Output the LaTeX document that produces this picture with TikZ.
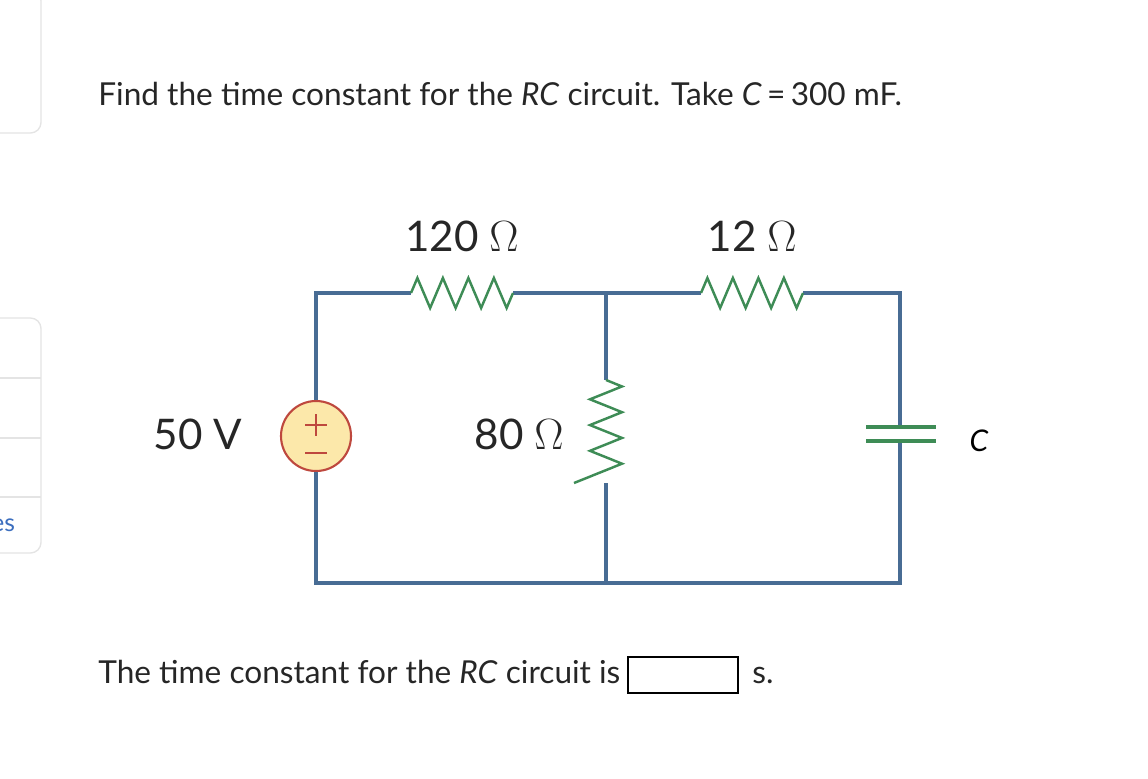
\documentclass[tikz,border=0pt]{standalone}
\usepackage{fontspec}
\setmainfont{Lato}
\usetikzlibrary{positioning}
\definecolor{wire}{RGB}{72,108,148}
\definecolor{resgreen}{RGB}{62,140,86}
\definecolor{srcfill}{RGB}{252,232,170}
\definecolor{srcred}{RGB}{190,72,62}
\definecolor{panel}{RGB}{228,228,228}
\tikzset{
  wire/.style={draw=wire, line width=2pt},
  res/.style={draw=resgreen, line width=1.4pt, line join=miter},
  lbl/.style={font=\fontsize{24}{24}\selectfont, text=black!85, inner sep=0pt},
  txt/.style={font=\fontsize{18}{20}\selectfont, text=black!85, inner sep=0pt, anchor=base west},
}
% horizontal zigzag: start, length
\newcommand\zigH[2]{\draw[res] (#1) -- ++({#2/16},-15)
  \foreach \k in {1,...,7}{ -- ++({#2/8},{30*pow(-1,\k+1)})} -- ++({#2/16},-15);}
% vertical zigzag: start, length
\newcommand\zigV[2]{\draw[res] (#1) -- ++(16,{#2/16})
  \foreach \k in {1,...,7}{ -- ++({-32*pow(-1,\k+1)},{#2/8})} -- ++(-16,{#2/16});}
\begin{document}
\begin{tikzpicture}[x=0.02cm, y=-0.02cm]%{{{
\useasboundingbox (0,0) rectangle (1148,778);
%
% Side panels
\draw [panel, line width=0.8pt, rounded corners=6pt] (-20,-10) -- (41,-10) -- (41,133) -- (-20,133);
\draw [panel, line width=0.8pt, rounded corners=6pt] (-20,318) -- (41,318) -- (41,553) -- (-20,553);
\foreach \y in {378,438,497} \draw [panel, line width=0.8pt] (0,\y) -- (41,\y);
\node [font=\fontsize{14}{14}\selectfont, text={rgb,255:red,60;green,110;blue,190}, anchor=base west, inner sep=0pt] (side) at (-9,531) {es};
%
% Question
\node [txt] (title) at (98,105) {Find the time constant for the \textit{RC} circuit. Take \textit{C}\,=\,300 mF.};
%
% Corners
\coordinate (tl) at (316,293);  \coordinate (bl) at (316,583);
\coordinate (tm) at (606,293);  \coordinate (bm) at (606,583);
\coordinate (tr) at (900,293);  \coordinate (br) at (900,583);
\coordinate (r1a) at (411,293); \coordinate (r1b) at (513,293);
\coordinate (r2a) at (701,293); \coordinate (r2b) at (803,293);
\coordinate (r3a) at (606,380); \coordinate (r3b) at (606,483);
\coordinate (c1) at (900,427);  \coordinate (c2) at (900,441);
%
% Source
\node [circle, draw=srcred, fill=srcfill, line width=1.2pt, minimum size=70*0.02cm, inner sep=0pt] (src) at (316,436) {};
\draw [srcred, line width=1.3pt] ([yshift=11*0.02cm]src.center) ++(-11,0) -- ++(22,0)
      ([yshift=11*0.02cm]src.center) ++(0,-11) -- ++(0,22);
\draw [srcred, line width=1.3pt] ([yshift=-17*0.02cm]src.center) ++(-11,0) -- ++(22,0);
%
% Wires
\draw [wire] (src.north) -- (tl) -- (r1a);
\draw [wire] (r1b) -- (tm) -- (r2a);
\draw [wire] (r2b) -- (tr) -- (c1);
\draw [wire] (c2) -- (br) -- (bl) -- (src.south);
\draw [wire] (tm) -- (r3a);
\draw [wire] (r3b) -- (bm);
%
% Resistors
\zigH{r1a}{102}
\zigH{r2a}{102}
\zigV{r3a}{103}
%
% Capacitor
\draw [res, line width=1.8pt] (866,427) -- (936,427) (866,441) -- (936,441);
%
% Labels
\node [lbl] (l120) at (462,236) {120 $\Omega$};
\node [lbl] (l12)  at (752,236) {12 $\Omega$};
\node [lbl] (l80)  at (519,434) {80 $\Omega$};
\node [lbl] (l50)  at (198,434) {50 V};
\node [font=\fontsize{17}{17}\selectfont\itshape, inner sep=0pt] (lc) at (979,441) {C};
%
% Answer
\node [txt] (ans) at (98,683) {The time constant for the \textit{RC} circuit is};
\node [draw, line width=0.8pt, minimum width=110*0.02cm, minimum height=36*0.02cm, inner sep=0pt] (box) at (683,675) {};
\node [txt] (unit) at (752,683) {s.};
%
\end{tikzpicture}
\end{document}
